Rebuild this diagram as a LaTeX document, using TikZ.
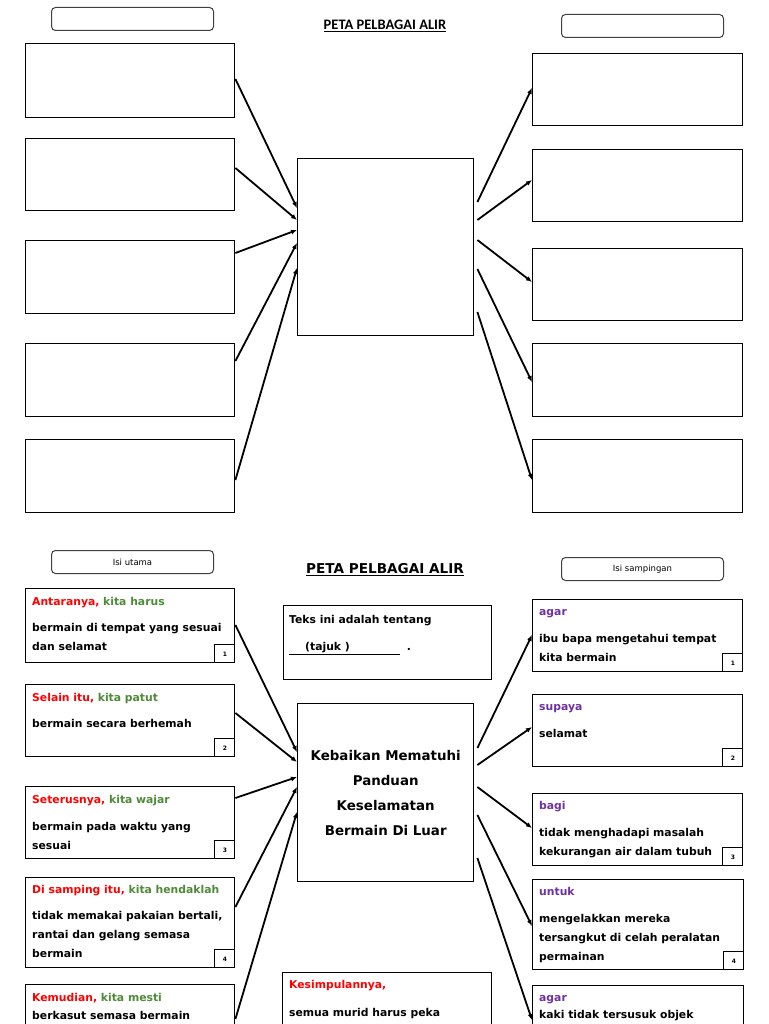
\documentclass[tikz,border=0pt]{standalone}
\usepackage{fontspec}
\setmainfont{DejaVu Sans}
\newfontfamily\calib{Carlito}
\usetikzlibrary{arrows.meta}
\definecolor{cred}{HTML}{FF0000}
\definecolor{cgreen}{HTML}{4E8B37}
\definecolor{cpurple}{HTML}{7030A0}
\tikzset{
  box/.style={draw=black, line width=1.4pt, anchor=north west, inner sep=0pt},
  lbl/.style={draw=black!75, line width=1pt, rounded corners=4pt, anchor=north west, inner sep=0pt, minimum width=162pt, minimum height=23pt, font=\fontsize{8.5}{10}\selectfont},
  numbox/.style={draw=black, line width=1pt, anchor=south east, minimum width=20pt, minimum height=18pt, inner sep=0pt, font=\fontsize{6}{6}\selectfont\bfseries},
  conn/.style={line width=1.8pt, -{Latex[length=6pt,width=5pt]}},
  head/.style={anchor=base west, inner sep=0pt, font=\fontsize{10.8}{12}\selectfont\bfseries},
  body/.style={anchor=north west, inner sep=0pt, align=left, font=\fontsize{10.8}{19}\selectfont\bfseries},
  lbox/.style={box, minimum width=209pt},
  rbox/.style={box, minimum width=210pt},
}
\begin{document}
\begin{tikzpicture}[x=1pt,y=-1pt]
\useasboundingbox (0,0) rectangle (768,1024);
\fill[white] (0,0) rectangle (768,1024);
\clip (0,0) rectangle (768,1024);

% ================= TOP (blank template) =================
\node[lbl] (TLl) at (51,7) {};
\node[lbl] (TLr) at (561,14) {};
\node[inner sep=0pt, font=\calib\fontsize{14.5}{16}\selectfont\bfseries] (T1) at (385,26) {\underline{PETA PELBAGAI ALIR}};

\node[lbox, minimum height=74pt] (L1) at (25,43) {};
\node[lbox, minimum height=72pt] (L2) at (25,138) {};
\node[lbox, minimum height=73pt] (L3) at (25,240) {};
\node[lbox, minimum height=73pt] (L4) at (25,343) {};
\node[lbox, minimum height=73pt] (L5) at (25,439) {};

\node[box, minimum width=176pt, minimum height=177pt] (C1) at (297,158) {};

\node[rbox, minimum height=72pt] (R1) at (532,53) {};
\node[rbox, minimum height=72pt] (R2) at (532,149) {};
\node[rbox, minimum height=72pt] (R3) at (532,248) {};
\node[rbox, minimum height=73pt] (R4) at (532,343) {};
\node[rbox, minimum height=73pt] (R5) at (532,439) {};

\draw[conn] ([shift={(0,36)}]L1.north east) -- ([shift={(0,50)}]C1.north west);
\draw[conn] ([shift={(0,30)}]L2.north east) -- ([shift={(0,62)}]C1.north west);
\draw[conn] ([shift={(0,13)}]L3.north east) -- ([shift={(0,72)}]C1.north west);
\draw[conn] ([shift={(0,18)}]L4.north east) -- ([shift={(0,85)}]C1.north west);
\draw[conn] ([shift={(0,41)}]L5.north east) -- ([shift={(0,110)}]C1.north west);

\draw[conn] ([shift={(3,44)}]C1.north east) -- ([shift={(0,35)}]R1.north west);
\draw[conn] ([shift={(3,62)}]C1.north east) -- ([shift={(0,31)}]R2.north west);
\draw[conn] ([shift={(3,82)}]C1.north east) -- ([shift={(0,34)}]R3.north west);
\draw[conn] ([shift={(3,111)}]C1.north east) -- ([shift={(0,39)}]R4.north west);
\draw[conn] ([shift={(3,154)}]C1.north east) -- ([shift={(0,41)}]R5.north west);

% ================= BOTTOM (filled) =================
\node[lbl] (BLl) at (51,550) {Isi utama};
\node[lbl] (BLr) at (561,557) {Isi sampingan};
\node[inner sep=0pt, font=\fontsize{13.6}{15}\selectfont\bfseries] (T2) at (385,570) {\underline{PETA PELBAGAI ALIR}};

% left boxes
\node[lbox, minimum height=74pt] (BL1) at (25,588) {};
\node[lbox, minimum height=72pt] (BL2) at (25,684) {};
\node[lbox, minimum height=72pt] (BL3) at (25,786) {};
\node[lbox, minimum height=90pt] (BL4) at (25,877) {};
\node[lbox, minimum height=90pt] (BL5) at (25,984) {};

\node[head] (BL1h) at ([shift={(7,17)}]BL1.north west) {\textcolor{cred}{Antaranya,} \textcolor{cgreen}{kita harus}};
\node[body] (BL1b) at ([shift={(7,35)}]BL1.north west) {bermain di tempat yang sesuai\\dan selamat};
\node[numbox] (BL1n) at (BL1.south east) {1};

\node[head] (BL2h) at ([shift={(7,17)}]BL2.north west) {\textcolor{cred}{Selain itu,} \textcolor{cgreen}{kita patut}};
\node[body] (BL2b) at ([shift={(7,35)}]BL2.north west) {bermain secara berhemah};
\node[numbox] (BL2n) at (BL2.south east) {2};

\node[head] (BL3h) at ([shift={(7,17)}]BL3.north west) {\textcolor{cred}{Seterusnya,} \textcolor{cgreen}{kita wajar}};
\node[body] (BL3b) at ([shift={(7,36)}]BL3.north west) {bermain pada waktu yang\\sesuai};
\node[numbox] (BL3n) at (BL3.south east) {3};

\node[head] (BL4h) at ([shift={(7,16)}]BL4.north west) {\textcolor{cred}{Di samping itu,} \textcolor{cgreen}{kita hendaklah}};
\node[body] (BL4b) at ([shift={(7,34)}]BL4.north west) {tidak memakai pakaian bertali,\\rantai dan gelang semasa\\bermain};
\node[numbox] (BL4n) at (BL4.south east) {4};

\node[head] (BL5h) at ([shift={(7,17)}]BL5.north west) {\textcolor{cred}{Kemudian,} \textcolor{cgreen}{kita mesti}};
\node[body] (BL5b) at ([shift={(7,27)}]BL5.north west) {berkasut semasa bermain};

% centre
\node[box, minimum width=208pt, minimum height=74pt] (TB) at (283,605) {};
\node[head] (TBh) at ([shift={(6,18)}]TB.north west) {Teks ini adalah tentang};
\node[head] (TBt) at ([shift={(6,45)}]TB.north west) {\underline{\hspace{16pt}(tajuk )\hspace{50pt}}\hspace{7pt}.};

\node[box, minimum width=176pt, minimum height=178pt, align=center, font=\fontsize{13.4}{25}\selectfont\bfseries] (C2) at (297,703) {Kebaikan Mematuhi\\Panduan\\Keselamatan\\Bermain Di Luar};

\node[box, minimum width=209pt, minimum height=100pt] (KB) at (282,972) {};
\node[head] (KBh) at ([shift={(7,16)}]KB.north west) {\textcolor{cred}{Kesimpulannya,}};
\node[body] (KBb) at ([shift={(7,36)}]KB.north west) {semua murid harus peka};

% right boxes
\node[rbox, minimum height=72pt] (BR1) at (532,599) {};
\node[rbox, minimum height=72pt] (BR2) at (532,694) {};
\node[rbox, minimum height=72pt] (BR3) at (532,793) {};
\node[rbox, minimum width=211pt, minimum height=90pt] (BR4) at (532,879) {};
\node[rbox, minimum width=211pt, minimum height=90pt] (BR5) at (532,985) {};

\node[head] (BR1h) at ([shift={(7,16)}]BR1.north west) {\textcolor{cpurple}{agar}};
\node[body] (BR1b) at ([shift={(7,35)}]BR1.north west) {ibu bapa mengetahui tempat\\kita bermain};
\node[numbox] (BR1n) at (BR1.south east) {1};

\node[head] (BR2h) at ([shift={(7,16)}]BR2.north west) {\textcolor{cpurple}{supaya}};
\node[body] (BR2b) at ([shift={(7,35)}]BR2.north west) {selamat};
\node[numbox] (BR2n) at (BR2.south east) {2};

\node[head] (BR3h) at ([shift={(7,16)}]BR3.north west) {\textcolor{cpurple}{bagi}};
\node[body] (BR3b) at ([shift={(7,35)}]BR3.north west) {tidak menghadapi masalah\\kekurangan air dalam tubuh};
\node[numbox] (BR3n) at (BR3.south east) {3};

\node[head] (BR4h) at ([shift={(7,16)}]BR4.north west) {\textcolor{cpurple}{untuk}};
\node[body] (BR4b) at ([shift={(7,35)}]BR4.north west) {mengelakkan mereka\\tersangkut di celah peralatan\\permainan};
\node[numbox] (BR4n) at (BR4.south east) {4};

\node[head] (BR5h) at ([shift={(7,16)}]BR5.north west) {\textcolor{cpurple}{agar}};
\node[body] (BR5b) at ([shift={(7,25)}]BR5.north west) {kaki tidak tersusuk objek};

% connectors
\draw[conn] ([shift={(0,37)}]BL1.north east) -- ([shift={(0,49)}]C2.north west);
\draw[conn] ([shift={(0,29)}]BL2.north east) -- ([shift={(0,59)}]C2.north west);
\draw[conn] ([shift={(0,12)}]BL3.north east) -- ([shift={(0,74)}]C2.north west);
\draw[conn] ([shift={(0,30)}]BL4.north east) -- ([shift={(0,84)}]C2.north west);
\draw[conn] ([shift={(0,35)}]BL5.north east) -- ([shift={(0,109)}]C2.north west);

\draw[conn] ([shift={(3,45)}]C2.north east) -- ([shift={(0,36)}]BR1.north west);
\draw[conn] ([shift={(3,62)}]C2.north east) -- ([shift={(0,33)}]BR2.north west);
\draw[conn] ([shift={(3,84)}]C2.north east) -- ([shift={(0,35)}]BR3.north west);
\draw[conn] ([shift={(3,112)}]C2.north east) -- ([shift={(0,47)}]BR4.north west);
\draw[conn] ([shift={(3,155)}]C2.north east) -- ([shift={(0,35)}]BR5.north west);
\end{tikzpicture}
\end{document}
